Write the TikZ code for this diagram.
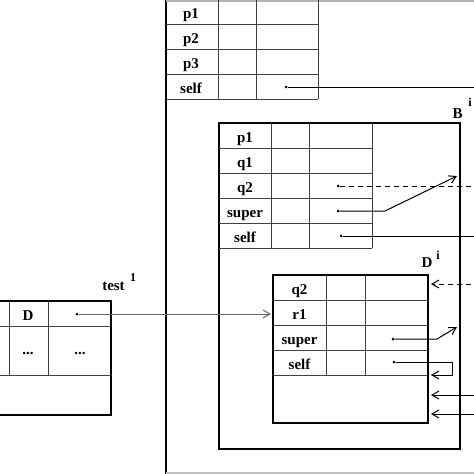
\documentclass[tikz,border=0pt]{standalone}
\usepackage{fontspec}
\setmainfont{Liberation Serif}
\usetikzlibrary{arrows.meta}
\begin{document}
\begin{tikzpicture}[x=1pt,y=-1pt,
  frame/.style={line width=2.8pt},
  grid/.style={line width=1pt, draw=black!75},
  lbl/.style={font=\fontsize{15}{17}\selectfont\bfseries, inner sep=0pt, anchor=base},
  suplbl/.style={font=\fontsize{12}{14}\selectfont\bfseries, inner sep=0pt, anchor=base},
  dot/.style={circle, fill=black, inner sep=0pt, minimum size=3pt},
  ptr/.style={line width=1pt, -{Straight Barb[length=7pt,width=8pt]}},
  dashptr/.style={ptr, dash pattern=on 5pt off 4pt},
  grayptr/.style={ptr, draw=black!60},
  plain/.style={line width=1pt}
]
\useasboundingbox (0,0) rectangle (474,474);
\clip (0,0) rectangle (474,474);

% ---------- outer box (cropped) ----------
\draw[frame] (166,-10) -- (166,484);
\fill[black!30] (166,0) rectangle (474,1.6);
\fill[black!25] (166,472) rectangle (474,474);

% ---------- top table ----------
\draw[grid] (166,24) -- (318,24) (166,49) -- (318,49) (166,74) -- (318,74) (166,99) -- (318,99);
\draw[grid] (218,0) -- (218,99) (256,0) -- (256,99) (318,0) -- (318,99);
\node[lbl] at (191,18) {p1};
\node[lbl] at (191,43) {p2};
\node[lbl] at (191,68) {p3};
\node[lbl] at (191,93) {self};
\node[dot] (tself) at (286,87) {};
\coordinate (tselfend) at (480,87);
\draw[plain] (tself) -- (tselfend);

% ---------- B box ----------
\draw[frame] (219,123) rectangle (460,449);
\node[lbl] (Blbl) at (457.5,118) {B};
\node[suplbl] at (470,106) {i};
\draw[grid] (219,148) -- (372,148) (219,173) -- (372,173) (219,198) -- (372,198) (219,223) -- (372,223) (219,248) -- (372,248);
\draw[grid] (271,123) -- (271,248) (309,123) -- (309,248) (372,123) -- (372,248);
\node[lbl] at (245,142) {p1};
\node[lbl] at (245,167) {q1};
\node[lbl] at (245,192) {q2};
\node[lbl] at (245,217) {super};
\node[lbl] at (245,242) {self};
\node[dot] (bq2) at (338,186) {};
\node[dot] (bsuper) at (338,211) {};
\node[dot] (bself) at (341,236) {};
\coordinate (bq2end) at (480,186);
\coordinate (bsuperbend) at (385,211);
\coordinate (bsupertip) at (457,176);
\coordinate (bselfend) at (480,236);
\draw[plain, dash pattern=on 5pt off 4pt] (bq2) -- (bq2end);
\draw[ptr] (bsuper) -- (bsuperbend) -- (bsupertip);
\draw[plain] (bself) -- (bselfend);

% ---------- D box ----------
\draw[frame] (273,275) rectangle (428,423);
\node[lbl] at (427,267) {D};
\node[suplbl] at (438,259) {i};
\draw[grid] (273,300) -- (428,300) (273,325) -- (428,325) (273,350) -- (428,350) (273,375) -- (428,375);
\draw[grid] (326,275) -- (326,375) (365,275) -- (365,375);
\node[lbl] at (299.5,294) {q2};
\node[lbl] at (299.5,319) {r1};
\node[lbl] at (299.5,344) {super};
\node[lbl] at (299.5,369) {self};
\node[dot] (dsuper) at (393,339) {};
\node[dot] (dself) at (394,362) {};
\coordinate (dsuperbend) at (437,339);
\coordinate (dsupertip) at (457,327);
\coordinate (dselfa) at (452,362);
\coordinate (dselfb) at (452,375);
\coordinate (dselftip) at (431,375);
\draw[ptr] (dsuper) -- (dsuperbend) -- (dsupertip);
\draw[ptr] (dself) -- (dselfa) -- (dselfb) -- (dselftip);
\coordinate (dq2start) at (480,284);
\coordinate (dq2tip) at (431,284);
\draw[dashptr] (dq2start) -- (dq2tip);
\coordinate (in1start) at (480,395);
\coordinate (in1tip) at (431,395);
\coordinate (in2start) at (480,414);
\coordinate (in2tip) at (431,414);
\draw[ptr] (in1start) -- (in1tip);
\draw[ptr] (in2start) -- (in2tip);

% ---------- test table ----------
\draw[frame] (-10,301) -- (111,301) -- (111,415) -- (-10,415);
\draw[grid] (-10,326) -- (111,326) (-10,375) -- (111,375);
\draw[grid] (9,301) -- (9,375) (48,301) -- (48,375);
\node[lbl] at (28,320) {D};
\node[lbl] at (28,354) {...};
\node[lbl] at (80,354) {...};
\node[lbl] at (113.5,290) {test};
\node[suplbl] at (133,281) {1};
\node[dot] (tD) at (77,314) {};
\coordinate (tDtip) at (271,314);
\draw[grayptr] (tD) -- (tDtip);
\end{tikzpicture}
\end{document}
